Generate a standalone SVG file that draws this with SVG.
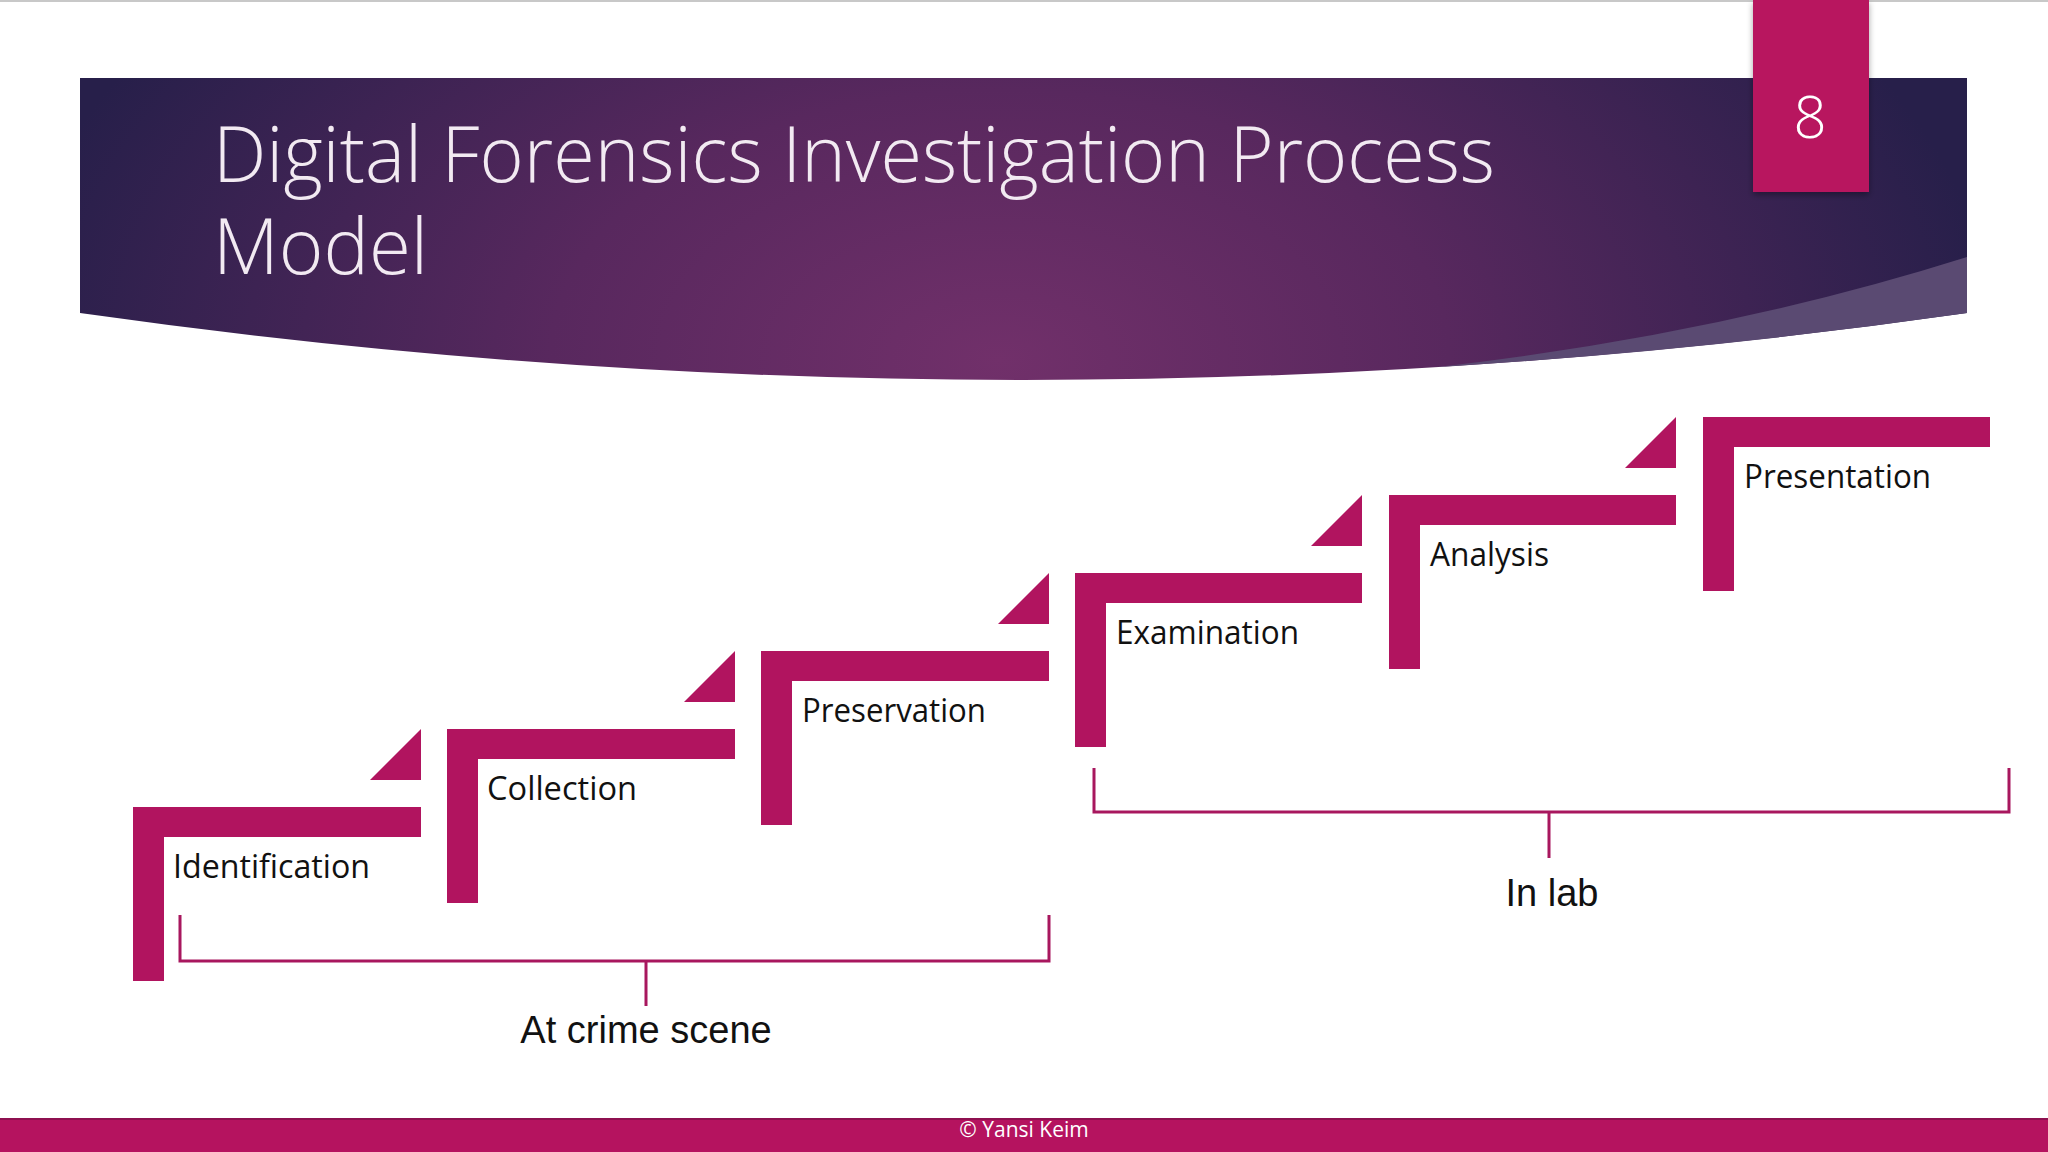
<svg xmlns="http://www.w3.org/2000/svg" width="2048" height="1152" viewBox="0 0 2048 1152">
<defs>
<radialGradient id="hdr" cx="1000" cy="360" r="1000" gradientUnits="userSpaceOnUse" gradientTransform="translate(1000 360) scale(1 0.6) translate(-1000 -360)">
<stop offset="0" stop-color="#71306A"/>
<stop offset="0.45" stop-color="#58285E"/>
<stop offset="1" stop-color="#271F4A"/>
</radialGradient>
<filter id="sh" x="-20%" y="-20%" width="140%" height="140%">
<feDropShadow dx="0" dy="3" stdDeviation="3" flood-color="#000" flood-opacity="0.35"/>
</filter>
<style>
.bar{fill:#B1145F}
.lbl{font-family:"Open Sans","Noto Sans",sans-serif;font-size:32px;fill:#111}
.grp{font-family:"Liberation Sans",Arial,sans-serif;font-size:38px;fill:#111;text-anchor:middle}
.br{fill:none;stroke:#A8175E;stroke-width:3}
.ttl{font-family:"Open Sans","Noto Sans",sans-serif;font-weight:350;font-size:77px;fill:#F2EAF2}
</style>
</defs>
<rect width="2048" height="1152" fill="#FFFFFF"/>
<rect x="0" y="0" width="2048" height="2" fill="#C8C8C8"/>
<g id="header">
<path d="M80,78 L1967,78 L1967,313 Q1024,447 80,313 Z" fill="url(#hdr)"/>
<path d="M1437,367 Q1703,351 1967,313 L1967,257 Q1720,335 1437,367 Z" fill="#5A4A72"/>
<text class="ttl" x="213" y="182" textLength="1282" lengthAdjust="spacingAndGlyphs">Digital Forensics Investigation Process</text>
<text class="ttl" x="213" y="274" textLength="215" lengthAdjust="spacingAndGlyphs">Model</text>
</g>
<g id="page-number">
<rect x="1753" y="0" width="116" height="192" fill="#B8135F" filter="url(#sh)"/>
<text x="1810" y="138" font-family="'Open Sans','Noto Sans',sans-serif" font-weight="300" font-size="58" fill="#FFFFFF" text-anchor="middle">8</text>
</g>
<g id="step-identification">
<path class="bar" d="M133,807 H421 V837 H164 V981 H133 Z"/>
<path class="bar" d="M370,780 L421,729 V780 Z"/>
<text class="lbl" x="173" y="878" textLength="197" lengthAdjust="spacingAndGlyphs">Identification</text>
</g>
<g id="step-collection">
<path class="bar" d="M447,729 H735 V759 H478 V903 H447 Z"/>
<path class="bar" d="M684,702 L735,651 V702 Z"/>
<text class="lbl" x="487" y="800" textLength="150" lengthAdjust="spacingAndGlyphs">Collection</text>
</g>
<g id="step-preservation">
<path class="bar" d="M761,651 H1049 V681 H792 V825 H761 Z"/>
<path class="bar" d="M998,624 L1049,573 V624 Z"/>
<text class="lbl" x="802" y="722" textLength="184" lengthAdjust="spacingAndGlyphs">Preservation</text>
</g>
<g id="step-examination">
<path class="bar" d="M1075,573 H1362 V603 H1106 V747 H1075 Z"/>
<path class="bar" d="M1311,546 L1362,495 V546 Z"/>
<text class="lbl" x="1116" y="644" textLength="183" lengthAdjust="spacingAndGlyphs">Examination</text>
</g>
<g id="step-analysis">
<path class="bar" d="M1389,495 H1676 V525 H1420 V669 H1389 Z"/>
<path class="bar" d="M1625,468 L1676,417 V468 Z"/>
<text class="lbl" x="1430" y="566" textLength="119" lengthAdjust="spacingAndGlyphs">Analysis</text>
</g>
<g id="step-presentation">
<path class="bar" d="M1703,417 H1990 V447 H1734 V591 H1703 Z"/>
<text class="lbl" x="1744" y="488" textLength="187" lengthAdjust="spacingAndGlyphs">Presentation</text>
</g>
<g id="connectors">
<path class="br" d="M180,915 V961 H1049 V915 M646,961 V1006"/>
<path class="br" d="M1094,768 V812 H2009 V768 M1549,812 V858"/>
</g>
<g id="group-labels">
<text class="grp" x="646" y="1043">At crime scene</text>
<text class="grp" x="1552" y="906">In lab</text>
</g>
<g id="footer">
<rect x="0" y="1119" width="2048" height="33" fill="#B5135F"/>
<rect x="0" y="1118" width="2048" height="2" fill="#8E1050"/>
<text x="1024" y="1137" font-family="'Open Sans','Noto Sans',sans-serif" font-size="21" fill="#FFFFFF" text-anchor="middle">© Yansi Keim</text>
</g>
</svg>
